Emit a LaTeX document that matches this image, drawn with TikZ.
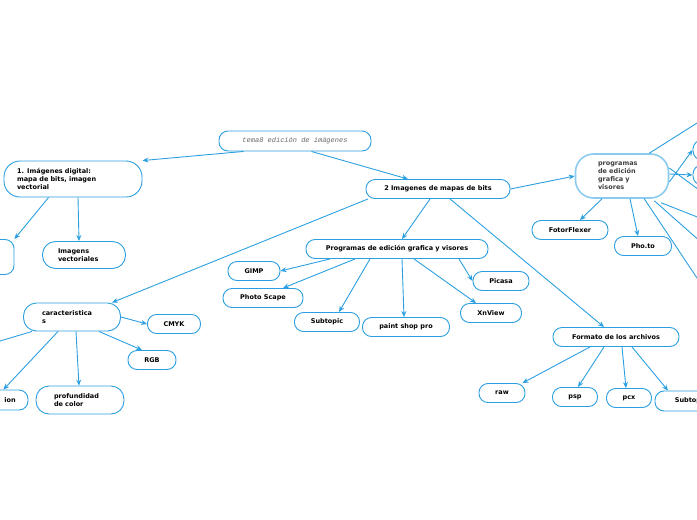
\documentclass[tikz,border=0pt]{standalone}
\usepackage{fontspec}
\setmainfont{DejaVu Sans}
\setmonofont{Liberation Mono}
\usetikzlibrary{arrows.meta}
\definecolor{bl}{HTML}{2C9FE0}
\definecolor{lb}{HTML}{8CCBF0}
\tikzset{
 box/.style={draw=bl,line width=0.9pt,rounded corners=9pt,fill=white,inner sep=0pt,font=\fontsize{6.5}{8}\selectfont\bfseries,align=left},
 big/.style={box,draw=lb,line width=1.6pt,rounded corners=18pt,text=black!75},
 con/.style={draw=bl,line width=0.9pt,-{Stealth[length=6pt,width=5pt]}},
}
\begin{document}
\begin{tikzpicture}[x=1pt,y=-1pt]
\useasboundingbox (0,0) rectangle (697,520);
\clip (0,0) rectangle (697,520);
\newcommand\bx[5]{\node[box,minimum width=#3pt,minimum height=#4pt] (#1) at (#2) {#5};}
\node[box,minimum width=152pt,minimum height=20pt,font=\ttfamily\itshape\fontsize{7}{8}\selectfont,text=black!60] (t) at (295,141) {tema8 edición de imágenes};
\node[box,minimum width=138pt,minimum height=36pt,rounded corners=16pt,text width=112pt] (n1) at (73,179) {1. Imágenes digital:\\mapa de bits, imagen\\vectorial};
\bx{offl}{-13,257}{54}{35}{}
\node[box,minimum width=83pt,minimum height=27pt,rounded corners=13pt,text width=52pt] (vec) at (84,255) {Imagens\\vectoriales};
\bx{maps}{438,189}{144}{19}{2 Imagenes de mapas de bits}
\bx{progs}{397,249}{182}{19}{Programas de edición grafica y visores}
\bx{gimp}{254,271}{52}{19}{GIMP}
\bx{ps}{263,298}{80}{19}{Photo Scape}
\bx{sub}{327,322}{65}{19}{Subtopic}
\bx{paint}{406,327}{87}{19}{paint shop pro}
\bx{xn}{491,313}{61}{19}{XnView}
\bx{pic}{501,281}{56}{19}{Picasa}
\node[box,minimum width=97pt,minimum height=28pt,rounded corners=13pt,text width=60pt] (car) at (72,317) {caracteristica\\s};
\bx{cmyk}{174,324}{53}{19}{CMYK}
\bx{rgb}{152,360}{48}{19}{RGB}
\node[box,minimum width=88pt,minimum height=28pt,rounded corners=13pt,text width=52pt] (prof) at (80,400) {profundidad\\de color};
\bx{ion}{-1,400}{58}{20}{\hspace*{22pt}ion}
\node[big,minimum width=93pt,minimum height=44pt,text width=48pt,font=\fontsize{6.5}{8}\selectfont\bfseries] (pg) at (622,176) {programas\\de edición\\grafica y\\visores};
\bx{ff}{570,230}{76}{19}{FotorFlexer}
\bx{pho}{643,246}{57}{19}{Pho.to}
\bx{r1}{713,150}{40}{20}{}
\bx{r2}{713,175}{40}{20}{}
\bx{fmt}{616,337}{126}{19}{Formato de los archivos}
\bx{raw}{502,393}{46}{19}{raw}
\bx{psp}{575,397}{45}{19}{psp}
\bx{pcx}{629,398}{45}{19}{pcx}
\bx{sub2}{688,401}{66}{20}{\hspace*{6pt}Subtopic}
\coordinate (e1) at (705,118);
\coordinate (e2) at (710,198);
\coordinate (e3) at (710,222);
\coordinate (e4) at (710,250);
\coordinate (e5) at (705,290);
\coordinate (e6) at (-10,344);
\draw[con] ([xshift=25pt]t.south west) -- (n1.north east);
\draw[con] ([xshift=-60pt]t.south east) -- ([xshift=-30pt]maps.north);
\draw[con] ([xshift=45pt]n1.south west) -- (offl.north east);
\draw[con] ([xshift=5pt]n1.south) -- ([xshift=-5pt]vec.north);
\draw[con] (maps.east) -- (pg.west);
\draw[con] ([xshift=-70pt]maps.south) -- ([xshift=40pt]car.north);
\draw[con] ([xshift=-8pt]maps.south) -- ([xshift=5pt]progs.north);
\draw[con] ([xshift=12pt]maps.south) -- ([xshift=-12pt]fmt.north);
\draw[con] ([xshift=-67pt]progs.south) -- (gimp.east);
\draw[con] ([xshift=-42pt]progs.south) -- ([xshift=20pt]ps.north);
\draw[con] ([xshift=-27pt]progs.south) -- ([xshift=12pt]sub.north);
\draw[con] ([xshift=5pt]progs.south) -- ([xshift=-2pt]paint.north);
\draw[con] ([xshift=17pt]progs.south) -- ([xshift=-15pt]xn.north);
\draw[con] ([xshift=62pt]progs.south) -- (pic.west);
\draw[con] (car.east) -- (cmyk.west);
\draw[con] ([xshift=27pt]car.south) -- ([xshift=-10pt]rgb.north);
\draw[con] ([xshift=4pt]car.south) -- ([xshift=-1pt]prof.north);
\draw[con] ([xshift=-14pt]car.south) -- ([xshift=-25pt]ion.north east);
\draw[con] ([xshift=-40pt]car.south) -- (e6);
\draw[con] ([xshift=-20pt]pg.south) -- ([xshift=10pt]ff.north);
\draw[con] ([xshift=8pt]pg.south) -- ([xshift=-5pt]pho.north);
\draw[con] ([xshift=-20pt]pg.north east) -- (e1);
\draw[con] ([yshift=-6pt]pg.east) -- (r1.west);
\draw[con] ([yshift=2pt]pg.east) -- (r2.west);
\draw[con] ([yshift=8pt]pg.east) -- (e2);
\draw[con] ([xshift=-8pt,yshift=-4pt]pg.south east) -- (e3);
\draw[con] ([xshift=-15pt,yshift=-2pt]pg.south east) -- (e4);
\draw[con] ([xshift=-25pt]pg.south east) -- (e5);
\draw[con] ([xshift=-26pt]fmt.south) -- ([xshift=-3pt]raw.north east);
\draw[con] ([xshift=-12pt]fmt.south) -- ([xshift=3pt]psp.north);
\draw[con] ([xshift=6pt]fmt.south) -- ([xshift=-3pt]pcx.north);
\draw[con] ([xshift=16pt]fmt.south) -- ([xshift=-20pt]sub2.north);
\end{tikzpicture}
\end{document}
